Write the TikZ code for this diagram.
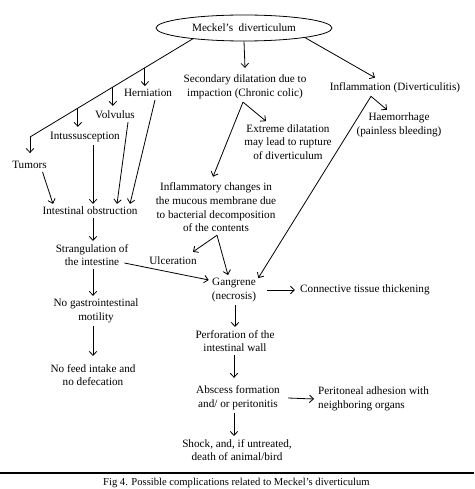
\documentclass[tikz,border=0pt]{standalone}
\usepackage{fontspec}
\setmainfont{Liberation Serif}
\usetikzlibrary{shapes.geometric,arrows.meta}

\begin{document}
\begin{tikzpicture}[x=1pt,y=-1pt,
      txt/.style={align=center,inner sep=3pt,font=\fontsize{11.2}{13.7}\selectfont},
      link/.style={line width=0.8pt},
      vect/.style={->,line width=0.8pt,>={Straight Barb[length=4pt,width=7.5pt]}}]
    \fill[white] (0,0) rectangle (474,489);
    \useasboundingbox (0,0) rectangle (474,489);
    \node[txt,draw,ellipse,line width=0.8pt,minimum width=176pt,minimum height=26pt,inner sep=0pt] (Mec) at (244,28) {Meckel’s\ \ diverticulum};
    \node[txt] (Sec) at (245,87) {Secondary dilatation due to\\impaction (Chronic colic)};
    \node[txt] (Inf) at (395,88) {Inflammation (Diverticulitis)};
    \node[txt] (Hae) at (399,125) {Haemorrhage\\(painless bleeding)};
    \node[txt] (Ext) at (288,142) {Extreme dilatation\\may lead to rupture\\of diverticulum};
    \node[txt] (Muc) at (216,207.5) {Inflammatory changes in\\the mucous membrane due\\to bacterial decomposition\\of the contents};
    \node[txt] (Her) at (148,93) {Herniation};
    \node[txt] (Vol) at (115,115) {Volvulus};
    \node[txt] (Int) at (85,137) {Intussusception};
    \node[txt] (Tum) at (29.5,165) {Tumors};
    \node[txt] (Obs) at (90,211) {Intestinal obstruction};
    \node[txt] (Str) at (92,255) {Strangulation of\\the intestine};
    \node[txt] (Ulc) at (173,261) {Ulceration};
    \node[txt] (Gan) at (234,290) {Gangrene\\(necrosis)};
    \node[txt,anchor=west] (Con) at (297,290) {Connective tissue thickening};
    \node[txt] (Mot) at (96,311) {No gastrointestinal\\motility};
    \node[txt] (Fee) at (93,375) {No feed intake and\\no defecation};
    \node[txt] (Per) at (235,341) {Perforation of the\\intestinal wall};
    \node[txt] (Abs) at (238,398) {Abscess formation\\and/ or peritonitis};
    \node[txt,align=left,anchor=west] (Adh) at (315,399) {Peritoneal adhesion with\\neighboring organs};
    \node[txt] (Sho) at (237,450) {Shock, and, if untreated,\\death of animal/bird};
    \coordinate (Tc) at (30,137);
    \coordinate (Iv) at ([xshift=-24pt]Inf.south);
    \coordinate (Sv) at ([xshift=-2pt]Sec.south);
    \coordinate (Mv) at ([xshift=1pt]Muc.south);
    \draw[link] (Mec.192) -- coordinate[pos=0.294] (Hb) coordinate[pos=0.491] (Vb)
      coordinate[pos=0.706] (Ib) (Tc);
    \draw[vect] (Tc) -- ([yshift=5pt]Tum.north -| Tc);
    \draw[vect] (Hb) -- (Hb |- Her.north);
    \draw[vect] (Vb) -- ([yshift=2pt]Vb |- Vol.north);
    \draw[vect] (Ib) -- ([yshift=2pt]Ib |- Int.north);
    \draw[vect] (Mec.south) -- ([yshift=4pt]Sec.north);
    \draw[vect] (Mec.-9) -- ([xshift=-20pt,yshift=2pt]Inf.north);
    \draw[vect] (Iv) -- ([xshift=-12pt]Hae.north);
    \draw[vect] (Iv) -- ([xshift=-1pt,yshift=-3pt]Gan.north east);
    \draw[vect] (Sv) -- ([xshift=-22pt]Ext.north);
    \draw[vect] (Sv) -- ([xshift=-3pt,yshift=3pt]Muc.north);
    \draw[vect] (Mv) -- ([xshift=20pt,yshift=2pt]Ulc.north);
    \draw[vect] (Mv) -- ([xshift=-6pt]Gan.north);
    \draw[vect] ([xshift=13pt]Tum.south) -- ([xshift=-37pt]Obs.north);
    \draw[vect] ([xshift=8pt]Int.south) -- ([xshift=3pt]Obs.north);
    \draw[vect] ([xshift=13pt]Vol.south) -- ([xshift=27pt]Obs.north);
    \draw[vect] ([xshift=7pt]Her.south) -- ([xshift=40pt]Obs.north);
    \draw[vect] ([xshift=3pt]Obs.south) -- ([xshift=1pt]Str.north);
    \draw[vect] ([xshift=-7pt,yshift=-8pt]Str.east) -- ([yshift=10pt]Gan.west);
    \draw[vect] ([xshift=1pt]Str.south) -- ([xshift=-3pt]Mot.north);
    \draw[vect] ([xshift=-3pt]Mot.south) -- ([yshift=5pt]Fee.north);
    \draw[vect] ([xshift=1pt]Gan.south) -- (Per.north);
    \draw[vect] ([xshift=8pt]Gan.east) -- ([xshift=-2pt]Con.west);
    \draw[vect] ([xshift=-1pt]Per.south) -- ([xshift=-4pt,yshift=5pt]Abs.north);
    \draw[vect] ([xshift=5pt]Abs.east) -- ([xshift=-1pt]Adh.west);
    \draw[vect] ([xshift=-4pt]Abs.south) -- ([xshift=-3pt]Sho.north);
    \draw[line width=1.2pt] (0,473) -- (474,473);
    \node[anchor=west,inner sep=0pt,font=\fontsize{10.6}{12}\selectfont] (Cap) at (103,483)
      {Fig 4. Possible complications related to Meckel’s diverticulum};
  \end{tikzpicture}
\end{document}
